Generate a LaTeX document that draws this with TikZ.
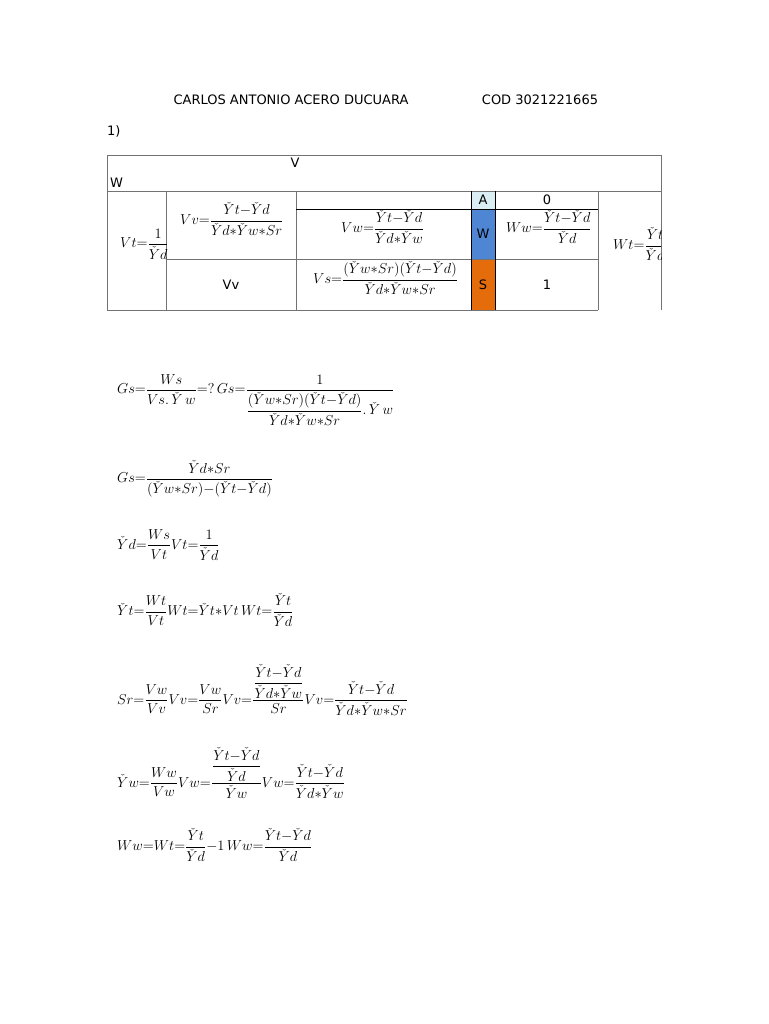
\documentclass[tikz,border=0pt]{standalone}
\usepackage{fontspec}
\setmainfont{DejaVu Sans}
\usepackage{amsmath}
\definecolor{wblue}{HTML}{4F86D4}
\definecolor{aqua}{HTML}{DAEEF3}
\definecolor{sorange}{HTML}{E46C0A}
\begin{document}
\newcommand{\Yc}{\check{Y}}
\begin{tikzpicture}[x=1pt,y=-1pt,
  txt/.style={inner sep=0pt,font=\fontsize{13}{15}\selectfont},
  eq/.style={inner sep=0pt,anchor=west,font=\fontsize{14}{16}\selectfont},
  grid/.style={draw=black!55,line width=0.8pt},
  blk/.style={draw=black,line width=0.8pt}]
\useasboundingbox (0,0) rectangle (768,1024);
\node[txt] (name) at (291,100) {CARLOS ANTONIO ACERO DUCUARA};
\node[txt] (cod) at (540,100) {COD 3021221665};
\node[txt,anchor=west] (one) at (107,131) {1)};
% colored cells
\fill[aqua] (471,191) rectangle (495,209);
\fill[wblue] (471,209) rectangle (495,259);
\fill[sorange] (471,259) rectangle (495,310);
% grid
\draw[grid] (107,155) -- (661,155) -- (661,310);
\draw[grid] (107,155) -- (107,310) -- (598,310);
\draw[grid] (107,191) -- (661,191);
\draw[grid] (166,191) -- (166,310);
\draw[grid] (296,191) -- (296,310);
\draw[grid] (166,259) -- (598,259);
\draw[grid] (598,191) -- (598,310);
\draw[blk] (296,209) -- (598,209);
\draw[blk] (471,191) -- (471,310);
\draw[blk] (495,191) -- (495,310);
\node[txt] (hV) at (295,163) {V};
\node[txt,anchor=west] (hW) at (110,183) {W};
\node[eq] (vt) at (120,244) {$Vt{=}\dfrac{1}{\Yc d}$};
\node[eq] (vv) at (180,219) {$Vv{=}\dfrac{\Yc t{-}\Yc d}{\Yc d{*}\Yc w{*}Sr}$};
\node[eq] (vw) at (341,227) {$Vw{=}\dfrac{\Yc t{-}\Yc d}{\Yc d{*}\Yc w}$};
\node[txt] (vv2) at (231,285) {Vv};
\node[eq] (vs) at (313,278) {$Vs{=}\dfrac{(\Yc w{*}Sr)(\Yc t{-}\Yc d)}{\Yc d{*}\Yc w{*}Sr}$};
\node[txt] (a) at (483,200) {A};
\node[txt] (w) at (483,234) {W};
\node[txt] (s) at (483,285) {S};
\node[txt] (z) at (547,200) {0};
\node[eq] (ww) at (506,227) {$Ww{=}\dfrac{\Yc t{-}\Yc d}{\Yc d}$};
\node[txt] (one1) at (547,285) {1};
\begin{scope}
\clip (598,191) rectangle (661,310);
\node[eq] (wt) at (613,244) {$Wt{=}\dfrac{\Yc t}{\Yc d}$};
\end{scope}
% equations
\node[eq] (e1) at (117,400) {$Gs{=}\dfrac{Ws}{Vs.\,\Yc\,w}{=}?\,Gs{=}\dfrac{1}{\dfrac{(\Yc w{*}Sr)(\Yc t{-}\Yc d)}{\Yc d{*}\Yc w{*}Sr}.\,\Yc\,w}$};
\node[eq] (e2) at (117,479) {$Gs{=}\dfrac{\Yc d{*}Sr}{(\Yc w{*}Sr){-}(\Yc t{-}\Yc d)}$};
\node[eq] (e3) at (117,545) {$\Yc d{=}\dfrac{Ws}{Vt}Vt{=}\dfrac{1}{\Yc d}$};
\node[eq] (e4) at (117,610) {$\Yc t{=}\dfrac{Wt}{Vt}Wt{=}\Yc t{*}Vt\,Wt{=}\dfrac{\Yc t}{\Yc d}$};
\node[eq] (e5) at (117,690) {$Sr{=}\dfrac{Vw}{Vv}Vv{=}\dfrac{Vw}{Sr}Vv{=}\dfrac{\dfrac{\Yc t{-}\Yc d}{\Yc d{*}\Yc w}}{Sr}Vv{=}\dfrac{\Yc t{-}\Yc d}{\Yc d{*}\Yc w{*}Sr}$};
\node[eq] (e6) at (117,773) {$\Yc w{=}\dfrac{Ww}{Vw}Vw{=}\dfrac{\dfrac{\Yc t{-}\Yc d}{\Yc d}}{\Yc w}Vw{=}\dfrac{\Yc t{-}\Yc d}{\Yc d{*}\Yc w}$};
\node[eq] (e7) at (117,845) {$Ww{=}Wt{=}\dfrac{\Yc t}{\Yc d}{-}1\,Ww{=}\dfrac{\Yc t{-}\Yc d}{\Yc d}$};
\end{tikzpicture}
\end{document}
